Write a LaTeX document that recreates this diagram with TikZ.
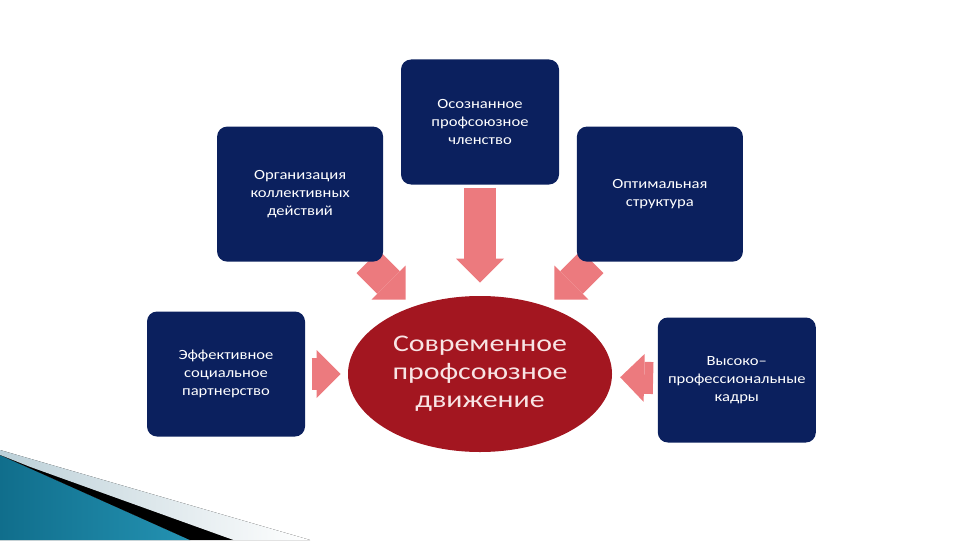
\documentclass[tikz,border=0pt]{standalone}
\usepackage{fontspec}
\setmainfont{Carlito}[FakeStretch=1.25]
\newfontfamily\boxfont{Carlito}[FakeStretch=1.18]
\usepackage{tikz}
\usetikzlibrary{shapes.geometric, arrows.meta, positioning, backgrounds, calc}

\definecolor{boxblue}{RGB}{11,32,94}
\definecolor{corered}{RGB}{163,22,32}
\definecolor{coretext}{RGB}{248,228,228}
\definecolor{arrowpink}{RGB}{236,122,126}
\definecolor{tealdark}{RGB}{16,110,140}
\definecolor{teallight}{RGB}{92,190,220}
\definecolor{tealmid}{RGB}{36,146,178}
\definecolor{stripegray}{RGB}{188,208,216}

\begin{document}
\begin{tikzpicture}[node distance=6.36cm, auto,
        block/.style={rectangle, fill=boxblue, text=white, align=center, rounded corners=0.25cm, minimum width=3.95cm, minimum height=3.125cm, inner sep=2pt, font=\boxfont\fontsize{10}{12.8}\selectfont},
        wideblock/.style={block, minimum width=4.15cm, minimum height=3.375cm},
        hub/.style={ellipse, fill=corered, text=coretext, align=center, minimum width=6.6cm, minimum height=3.9cm, inner sep=0pt, font=\fontsize{17}{20}\selectfont},
        line/.style={draw=arrowpink, line width=0.8cm, -{Triangle[width=1.2cm, length=0.6cm, line width=0pt]}}]

        \useasboundingbox (0,0) rectangle (24,13.5);

        % Corner decoration
        \fill [left color=tealdark, middle color=teallight, right color=tealmid] (0,2.125) -- (4.75,0) -- (0,0) -- cycle;
        \fill [left color=stripegray, right color=white] (0,2.25) -- (7.75,0) -- (5.825,0) -- (0.75,1.825) -- (0,2.125) -- cycle;
        \fill [black] (0,2.125) -- (0.75,1.825) -- (5.825,0) -- (4.75,0) -- cycle;

        % Central movement
        \node [hub] (movement) at (12,4.15) {Современное\\профсоюзное\\движение};

        % Factors
        \node [wideblock, above left of=movement] (organisation) {Организация\\коллективных\\действий};
        \node [block, above of=movement, node distance=6.3cm] (awareness) {Осознанное\\профсоюзное\\членство};
        \node [wideblock, above right of=movement] (structure) {Оптимальная\\структура};
        \node [block, left of=movement, node distance=6.35cm] (partnership) {Эффективное\\социальное\\партнерство};
        \node [block, right of=movement, node distance=6.42cm, yshift=-0.15cm] (cadres) {Высоко–\\профессиональные\\кадры};

        % Connections
        \begin{scope}[on background layer]
        \path [line, shorten >=0.25cm] (organisation) -- (movement);
        \path [line, shorten <=0.075cm, shorten >=0.325cm] (awareness) -- (movement);
        \path [line, shorten >=0.25cm] (structure) -- (movement);
        \path [line, shorten <=0.16cm, shorten >=0.175cm] (partnership) -- (movement);
        \path [line, shorten <=0.11cm, shorten >=0.2cm] (cadres) -- (movement);
        \end{scope}

    \end{tikzpicture}
\end{document}
